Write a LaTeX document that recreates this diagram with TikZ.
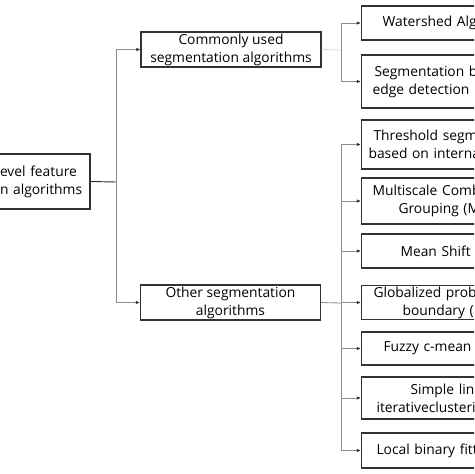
\documentclass[tikz,border=0pt]{standalone}
\usepackage{fontspec}
\setmainfont{Open Sans}
\usepackage{tikz}
\usetikzlibrary{arrows.meta,positioning}
\definecolor{boxline}{HTML}{333333}
\definecolor{linkdark}{HTML}{2E2E2E}
\definecolor{linkgray}{HTML}{8C8C8C}
\definecolor{linklight}{HTML}{DADADA}
\newlength\pxu
\setlength\pxu{0.03cm}
\newcommand\ind[1]{\hspace*{#1\pxu}}
\tikzset{
  box/.style={draw=boxline,line width=0.9pt,inner xsep=0pt,inner ysep=0pt,
              font=\fontsize{11.8}{15.3}\selectfont},
  midbox/.style={box,minimum width=180\pxu,minimum height=35\pxu,align=center},
  leafbox/.style={box,anchor=west,text width=160\pxu,align=left},
  linkto/.style={-{Latex[length=3.6pt,width=3pt,color=linkdark]},line width=0.7pt,linkgray},
  linkroot/.style={line width=0.8pt,linkdark},
  linkfaint/.style={line width=0.7pt,linklight},
}

\begin{document}
\begin{tikzpicture}[x=0.03cm,y=-0.03cm]
  \useasboundingbox (0,0) rectangle (474,474);
  \clip (0,0) rectangle (474,474);

  % root, cut by the left edge
  \node[box,text width=120\pxu,minimum height=55\pxu,align=left] (root) at (30,181.5)
    {\ind{30}evel feature\\\ind{30}n algorithms};

  % second level
  \node[midbox] (common) at (231,49.5) {Commonly used\\segmentation algorithms};
  \node[midbox] (other) at (230.5,302.5) {Other segmentation\\algorithms};

  % leaves, cut by the right edge
  \node[leafbox,minimum height=34\pxu] (ws) at (361,23) {\ind{21}Watershed Alg};
  \node[leafbox,minimum height=53\pxu] (edge) at (361,81.5)
    {\ind{13}Segmentation b\\\ind{11}edge detection};
  \node[leafbox,minimum height=49\pxu] (thr) at (361,144.5)
    {\ind{12}Threshold segm\\\ind{7}based on interna};
  \node[leafbox,minimum height=46\pxu] (mcg) at (361,201)
    {\ind{11}Multiscale Comb\\\ind{37}Grouping (M};
  \node[leafbox,minimum height=34\pxu] (ms) at (361,251) {\ind{39}Mean Shift};
  \node[leafbox,minimum height=34\pxu] (gpb) at (361,302.5)
    {\ind{12}Globalized prob\\\ind{41}boundary (};
  \node[leafbox,minimum height=33\pxu] (fcm) at (361,348.5) {\ind{22}Fuzzy c-mean};
  \node[leafbox,minimum height=42\pxu] (slic) at (361,398)
    {\ind{49}Simple lin\\\ind{15}iterativeclusteri};
  \node[leafbox,minimum height=35\pxu] (lbf) at (361,450.5) {\ind{15}Local binary fitt};

  % connectors
  \coordinate (trunk) at (116,182);
  \coordinate (cj) at (341,50);
  \coordinate (oj) at (341,303);
  \draw[linkroot] (root.east) -- (trunk);
  \draw[linkto] (trunk) |- (common.west);
  \draw[linkto] (trunk) |- (other.west);
  \draw[linkfaint] (common.east) -- (cj);
  \foreach \n in {ws,edge}
    \draw[linkto] (cj) |- (\n.west);
  \draw[linkgray,line width=0.7pt] (other.east) -- (oj);
  \foreach \n in {thr,mcg,ms,gpb,fcm,slic,lbf}
    \draw[linkto] (oj) |- (\n.west);
\end{tikzpicture}
\end{document}
